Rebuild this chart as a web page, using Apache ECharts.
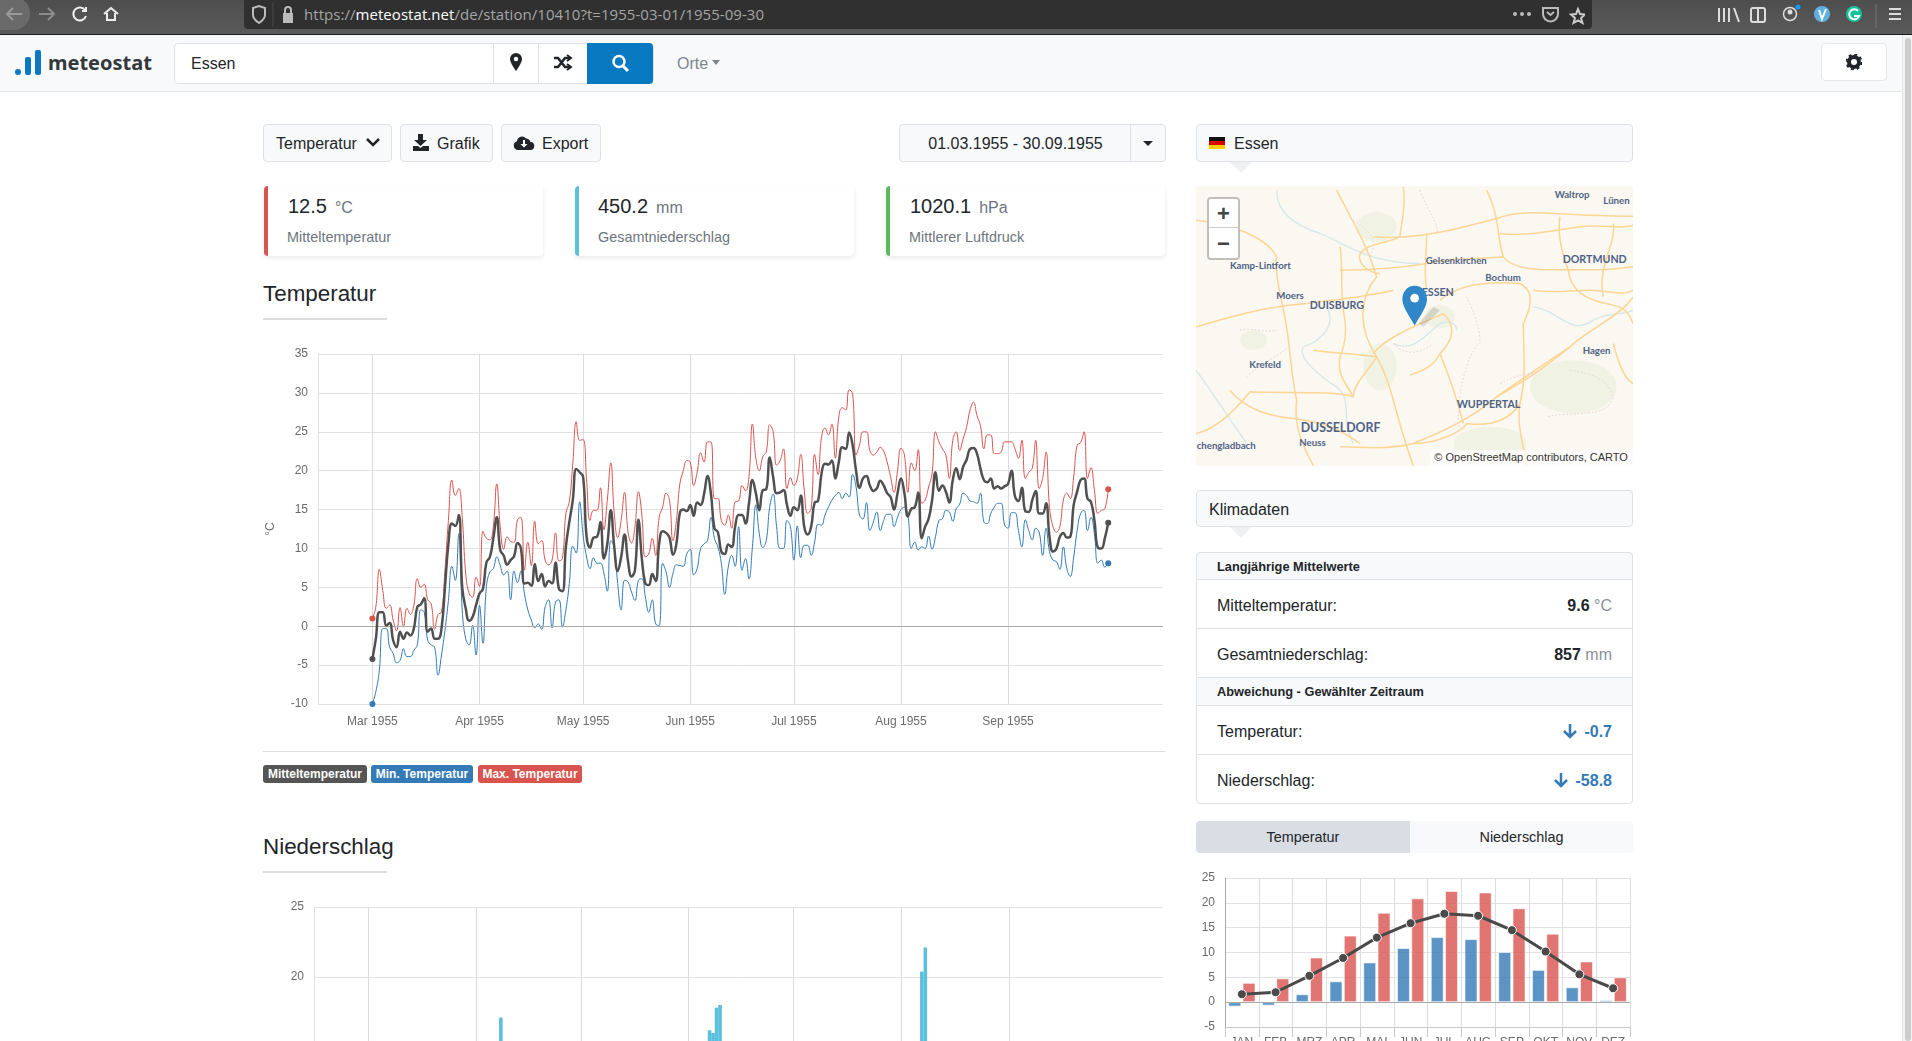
<!DOCTYPE html>
<html lang="de">
<head>
<meta charset="utf-8">
<title>Essen | meteostat</title>
<script src="https://cdn.jsdelivr.net/npm/echarts@6/dist/echarts.min.js"></script>
<style>
html,body{margin:0;padding:0;width:1912px;height:1041px;overflow:hidden;background:#fff;font-family:"Liberation Sans",Arial,sans-serif;color:#212529}
.a{position:absolute;box-sizing:border-box;white-space:nowrap}
.box{background:#f8f9fa;border:1px solid #dee2e6;border-radius:4px;font-size:16px;line-height:37px}
.card{top:186px;height:70px;width:279px;background:#fff;border-left:4px solid;border-radius:4px;box-shadow:0 2px 5px rgba(0,0,0,.09)}
.val{font-size:20px;line-height:26px}
.unit{font-size:16px;color:#6c757d;margin-left:8px}
.lab{font-size:14.4px;line-height:18px;color:#6c757d}
.head{font-size:22.4px;line-height:30px;left:263px}
.rule{left:263px;width:124px;height:2px;background:#ddd}
.tag{top:765px;height:18px;border-radius:3px;color:#fff;font-size:12px;font-weight:bold;line-height:18px;text-align:center}
.notch{width:0;height:0;border-left:11px solid transparent;border-right:11px solid transparent;border-top:11px solid #eef0f2;left:1230px}
.row{left:1196px;width:437px;border-bottom:1px solid #dee2e6;font-size:16px;padding-left:21px}
.sec{background:#f8f9fa;font-size:12.8px;font-weight:bold;height:28px;line-height:27px}
.cell{height:49px;line-height:51px}
.right{position:absolute;right:21px;top:0}
.muted{color:#8a9199}
.blue{color:#337ab7;font-weight:bold}
</style>
</head>
<body>

<!-- browser bar -->
<div class="a" style="left:0;top:0;width:1912px;height:35px;background:linear-gradient(#4e4e4e,#5a5a5a);border-bottom:1px solid #1c1c1c"></div>
<div class="a" style="left:0;top:-3px;width:30px;height:33px;border-radius:0 16px 16px 0;background:#6a6a6a"></div>
<svg class="a" style="left:0;top:0" width="130" height="34" fill="none" stroke-width="2">
  <path d="M22 14H7M13 8L7 14L13 20" stroke="#999"/>
  <path d="M39 14H54M48 8L54 14L48 20" stroke="#8c8c8c"/>
  <path d="M85 10A6.5 6.5 0 1 0 86 16M86 7V11H82" stroke="#eee"/>
  <path d="M104 14L111 8L118 14M107 13V20H115V13" stroke="#eee"/>
</svg>
<div class="a" style="left:244px;top:0;width:1348px;height:29px;background:#303030;border-radius:0 0 4px 4px"></div>
<svg class="a" style="left:250px;top:3px" width="50" height="24" fill="none">
  <path d="M3 5L9 3L15 5V12C15 16 12 18 9 20C6 18 3 16 3 12Z" stroke="#bbb" stroke-width="2"/>
  <path d="M23 0V24" stroke="#4a4a4a"/>
  <path d="M33 10H43V20H33Z" fill="#bbb"/><path d="M35 10V7A3 3 0 0 1 41 7V10" stroke="#bbb" stroke-width="2"/>
</svg>
<div class="a" id="url" style="left:304px;top:0;height:29px;line-height:29px;font-family:'Open Sans';font-size:15px;letter-spacing:.05px;color:#a5a5a5">https://<span style="color:#fff">meteostat.net</span>/de/station/10410?t=1955-03-01/1955-09-30</div>
<svg class="a" style="left:1510px;top:4px" width="75" height="22" fill="none">
  <circle cx="5" cy="10" r="2" fill="#bbb"/><circle cx="12" cy="10" r="2" fill="#bbb"/><circle cx="19" cy="10" r="2" fill="#bbb"/>
  <path d="M33 4H48V10A7.5 7.5 0 0 1 33 10Z" stroke="#bbb" stroke-width="2"/><path d="M37 8L40.5 11L44 8" stroke="#bbb" stroke-width="2"/>
  <path d="M68 5L70 10L75 10.500L71 14L72.500 19L68 16.500L63.500 19L65 14L61 10.500L66 10Z" stroke="#ccc" stroke-width="2"/>
</svg>
<svg class="a" style="left:1715px;top:4px" width="190" height="24" fill="none">
  <path d="M4 4V18M9 4V18M14 4V18M19 4L24 18" stroke="#ddd" stroke-width="2"/>
  <rect x="36" y="4" width="14" height="14" rx="2" stroke="#ddd" stroke-width="2"/><path d="M43 4V18" stroke="#ddd" stroke-width="2"/>
  <circle cx="75" cy="10" r="6.500" stroke="#ddd" stroke-width="1.500"/><circle cx="75" cy="8" r="2.500" fill="#ddd"/>
  <circle cx="83" cy="3" r="2.500" fill="#0a9dff"/>
  <circle cx="107" cy="10" r="8" fill="#5fb0e2"/><path d="M104 6L107 15L111 5" stroke="#fff" stroke-width="2"/>
  <circle cx="139" cy="10" r="8" fill="#15c39a"/><path d="M143 7A5 5 0 1 0 144 12H139" stroke="#fff" stroke-width="2"/>
  <path d="M161 0V26" stroke="#777"/>
  <path d="M174 5H186M174 10H186M174 15H186" stroke="#ddd" stroke-width="2"/>
</svg>

<!-- navbar -->
<div class="a" style="left:0;top:35px;width:1902px;height:57px;background:#f8f9fa;border-bottom:1px solid #e3e5e8"></div>
<svg class="a" style="left:14px;top:49px" width="30" height="28" fill="#0a78c2">
  <rect x="1" y="20" width="6" height="6" rx="3"/><rect x="11" y="8" width="6" height="18" rx="2"/><rect x="21" y="1" width="6" height="25" rx="2"/>
</svg>
<div class="a" style="left:48px;top:46px;line-height:34px;font-family:'Noto Sans';font-weight:700;font-size:20px;color:#33383d">meteostat</div>
<div class="a" style="left:174px;top:43px;width:480px;height:41px;background:#fff;border:1px solid #dee2e6;border-radius:4px;font-size:16px;line-height:39px;padding-left:16px">Essen</div>
<div class="a" style="left:493px;top:44px;width:1px;height:39px;background:#dee2e6"></div>
<div class="a" style="left:538px;top:44px;width:1px;height:39px;background:#dee2e6"></div>
<div class="a" style="left:587px;top:43px;width:66px;height:41px;background:#0679c0;border-radius:0 4px 4px 0"></div>
<svg class="a" style="left:505px;top:52px" width="24" height="22"><path d="M11 1A6 6 0 0 0 5 7C5 11 11 19 11 19C11 19 17 11 17 7A6 6 0 0 0 11 1Z" fill="#212529"/><circle cx="11" cy="7" r="2.200" fill="#fff"/></svg>
<svg class="a" style="left:553px;top:54px" width="20" height="18" fill="none" stroke="#212529" stroke-width="2.500"><path d="M1 4H5L12 13H17M1 13H5L12 4H17"/><path d="M14 1L18 4L14 7M14 10L18 13L14 16" stroke-width="2"/></svg>
<svg class="a" style="left:611px;top:54px" width="20" height="20" fill="none" stroke="#fff" stroke-width="2.500"><circle cx="8" cy="7.500" r="5.500"/><path d="M12 12L17 17" stroke-width="3"/></svg>
<div class="a" style="left:677px;top:43px;line-height:41px;font-size:16px;color:#7d858c">Orte</div>
<div class="a" style="left:712px;top:60px;border-left:4px solid transparent;border-right:4px solid transparent;border-top:5px solid #7d858c"></div>
<div class="a" style="left:1821px;top:43px;width:66px;height:38px;background:#fff;border:1px solid #e4e6e9;border-radius:4px"></div>
<svg class="a" style="left:1846px;top:54px" width="16" height="16"><circle cx="8" cy="8" r="5" fill="none" stroke="#212529" stroke-width="4"/><circle cx="8" cy="8" r="7.500" fill="none" stroke="#212529" stroke-width="2" stroke-dasharray="3 2.900"/></svg>
<div class="a" style="left:1902px;top:35px;width:10px;height:1006px;background:#f2f2f2;border-left:1px solid #e6e6e6"></div>
<div class="a" style="left:1905px;top:38px;width:6px;height:1003px;background:#cdcdcd;border-radius:3px"></div>

<!-- toolbar -->
<div class="a box" style="left:263px;top:124px;width:129px;height:38px;padding-left:12px">Temperatur</div>
<svg class="a" style="left:365px;top:137px" width="16" height="12" fill="none"><path d="M2 2L8 8L14 2" stroke="#212529" stroke-width="2.500"/></svg>
<div class="a box" style="left:400px;top:124px;width:93px;height:38px;padding-left:36px">Grafik</div>
<svg class="a" style="left:412px;top:134px" width="18" height="18"><path d="M6 0H11V6H15L8.500 12L2 6H6ZM1 12H6L8.500 14L11 12H17V17H1Z" fill="#212529"/></svg>
<div class="a box" style="left:501px;top:124px;width:100px;height:38px;padding-left:40px">Export</div>
<svg class="a" style="left:513px;top:134px" width="22" height="18"><path d="M5 16A4.500 4.500 0 0 1 4 7.200A5 5 0 0 1 13 4.500A5 5 0 0 1 17.500 8A4 4 0 0 1 17 16Z" fill="#212529"/><path d="M10 6H12V10H14.500L11 13.500L7.500 10H10Z" fill="#fff"/></svg>
<div class="a box" style="left:899px;top:124px;width:267px;height:38px;padding-right:34px;text-align:center">01.03.1955 - 30.09.1955</div>
<div class="a" style="left:1130px;top:125px;width:1px;height:36px;background:#dee2e6"></div>
<div class="a" style="left:1143px;top:141px;border-left:5px solid transparent;border-right:5px solid transparent;border-top:5px solid #212529"></div>

<!-- summary cards -->
<div class="a card" style="left:264px;border-left-color:#d9534f"></div>
<div class="a card" style="left:575px;border-left-color:#5bc0de"></div>
<div class="a card" style="left:886px;border-left-color:#5cb85c"></div>
<div class="a val" style="left:288px;top:193px">12.5<span class="unit">°C</span></div>
<div class="a lab" style="left:287px;top:228px">Mitteltemperatur</div>
<div class="a val" style="left:598px;top:193px">450.2<span class="unit">mm</span></div>
<div class="a lab" style="left:598px;top:228px">Gesamtniederschlag</div>
<div class="a val" style="left:910px;top:193px">1020.1<span class="unit">hPa</span></div>
<div class="a lab" style="left:909px;top:228px">Mittlerer Luftdruck</div>

<!-- temperature -->
<div class="a head" style="top:279px">Temperatur</div>
<div class="a rule" style="top:318px"></div>
<div class="a" id="tempChart" style="left:263px;top:340px;width:902px;height:400px"></div>
<div class="a" style="left:263px;top:751px;width:902px;height:1px;background:#ddd"></div>
<div class="a tag" style="left:263px;width:104px;background:#555">Mitteltemperatur</div>
<div class="a tag" style="left:371px;width:102px;background:#337ab7">Min. Temperatur</div>
<div class="a tag" style="left:478px;width:104px;background:#d9534f">Max. Temperatur</div>

<!-- precipitation -->
<div class="a head" style="top:832px">Niederschlag</div>
<div class="a rule" style="top:871px"></div>
<div class="a" id="rainChart" style="left:263px;top:890px;width:902px;height:420px"></div>

<!-- station -->
<div class="a box" style="left:1196px;top:124px;width:437px;height:38px;padding-left:37px">Essen</div>
<div class="a notch" style="top:162px"></div>
<svg class="a" style="left:1209px;top:137px" width="16" height="12"><rect width="16" height="4" fill="#111"/><rect y="4" width="16" height="4" fill="#d00"/><rect y="8" width="16" height="4" fill="#fc0"/></svg>

<!-- map backdrop -->
<svg class="a" style="left:1196px;top:186px" width="437" height="280" viewBox="48 228 1311 839">
  <rect x="48" y="228" width="1311" height="839" fill="#fbf7f1"/>
  <g fill="#f0f3e4">
    <ellipse cx="590" cy="350" rx="60" ry="45"/><ellipse cx="600" cy="770" rx="50" ry="70"/><ellipse cx="1180" cy="830" rx="130" ry="80"/>
    <ellipse cx="780" cy="620" rx="45" ry="35"/><ellipse cx="930" cy="1000" rx="110" ry="50"/><ellipse cx="220" cy="690" rx="40" ry="30"/>
  </g>
  <g fill="none" stroke="#d4e8ea" stroke-width="4">
    <path d="M290 240C290 300 330 340 420 370C500 400 560 460 720 460"/>
    <path d="M440 590C470 640 430 690 370 710C350 740 420 800 470 830C520 870 480 930 520 1000"/>
    <path d="M640 700C700 730 740 670 780 640C810 630 830 640 830 660"/>
    <path d="M1060 590C1140 600 1170 680 1240 630C1290 600 1330 620 1359 600"/>
    <path d="M48 780C100 850 150 930 200 1000"/>
  </g>
  <g fill="none" stroke="#fdd594" stroke-width="4.500">
    <path d="M470 240C520 340 560 400 590 500C540 560 530 650 590 740C640 830 640 900 700 1067"/>
    <path d="M670 230C680 300 660 350 660 380C620 400 560 400 540 430C530 470 580 490 600 490"/>
    <path d="M48 330C150 340 260 380 290 440C280 490 310 580 310 600C330 680 330 780 350 870C340 950 370 1010 400 1067"/>
    <path d="M580 380C700 390 820 360 950 325C1040 290 1140 320 1359 318"/>
    <path d="M920 240C960 320 950 380 970 440C1000 480 1080 480 1160 478C1250 480 1300 480 1359 470"/>
    <path d="M480 480C600 480 680 470 740 460C820 440 880 450 970 440"/>
    <path d="M780 570C830 530 900 510 1020 520C1060 540 1060 580 1030 640C1030 720 1040 800 1020 880C1010 950 1030 1000 1040 1067"/>
    <path d="M48 650C150 620 250 590 380 580C450 570 560 560 640 540"/>
    <path d="M1359 560C1320 620 1220 660 1170 710C1080 770 1020 810 950 860C880 920 800 960 700 1000C620 1020 550 1010 480 1010"/>
    <path d="M580 730C620 680 700 650 790 610C820 640 830 680 780 730C800 780 830 860 850 940"/>
    <path d="M400 720C470 730 520 730 590 740C560 790 520 820 520 860C470 840 300 850 210 845C150 920 100 960 48 970"/>
    <path d="M1140 320C1130 380 1150 440 1165 480C1170 540 1220 570 1280 580C1320 590 1340 590 1359 640"/>
    <path d="M740 370C740 440 730 480 740 540M780 730C760 770 730 780 690 795"/>
    <path d="M1300 340C1310 400 1250 470 1270 560M1300 700C1320 780 1340 810 1359 820"/>
    <path d="M480 410C490 470 480 520 490 600C500 650 500 690 480 740C470 800 500 820 520 860"/>
    <path d="M1060 540C1120 550 1170 540 1230 540C1280 540 1330 560 1359 540"/>
    <path d="M950 860C1000 830 1060 800 1170 710M860 940C930 950 990 930 1020 880"/>
    <path d="M150 840C200 900 280 920 340 925C420 935 470 950 540 1000"/>
    <path d="M960 370C1040 380 1120 360 1200 350C1260 340 1320 360 1359 345"/>
    <path d="M700 1000C780 1000 850 960 860 940"/>
  </g>
  <g fill="none" stroke="#e8d5d8" stroke-width="3" stroke-dasharray="5 6">
    <path d="M520 330C560 360 600 380 570 440M720 240C740 300 780 340 770 370M860 560C880 600 900 650 900 700C860 720 820 900 840 960"/>
    <path d="M180 660C220 650 250 670 290 660M200 800C240 760 330 720 330 700M1170 780C1230 790 1280 800 1300 860C1280 930 1180 900 1100 920"/>
    <path d="M640 700C680 740 720 730 760 700M960 820C1000 800 1030 790 1060 790"/>
  </g>
  <g font-family="Lato,'Noto Sans'" font-weight="700" fill="#4d6285" font-size="29">
    <text x="1124" y="264">Waltrop</text><text x="1270" y="281">Lünen</text>
    <text x="150" y="478">Kamp-Lintfort</text><text x="737" y="463">Gelsenkirchen</text>
    <text x="916" y="513">Bochum</text><text x="289" y="566">Moers</text>
    <text x="208" y="774">Krefeld</text><text x="1208" y="731">Hagen</text>
    <text x="358" y="1008">Neuss</text><text x="50" y="1016">chengladbach</text>
  </g>
  <g font-family="Lato,'Noto Sans'" font-weight="700" fill="#4d6285">
    <text x="1148" y="458" font-size="32">DORTMUND</text><text x="725" y="557" font-size="32">ESSEN</text>
    <text x="389" y="598" font-size="32">DUISBURG</text><text x="830" y="895" font-size="32">WUPPERTAL</text>
    <text x="362" y="965" font-size="37">DUSSELDORF</text>
  </g>
  <path d="M715 640L760 590L780 600L730 650Z" fill="#000" opacity=".12"/>
  <path d="M704 527C682 527 667 545 667 568C667 590 690 620 704 646C718 620 741 590 741 568C741 545 726 527 704 527Z" fill="#2f86c8"/>
  <circle cx="704" cy="564" r="13" fill="#fff"/>
  <rect x="750" y="1020" width="609" height="47" fill="#fff" opacity=".72"/>
  <text x="763" y="1052" font-family="'Liberation Sans'" font-size="33" fill="#333">© OpenStreetMap contributors, CARTO</text>
</svg>
<div class="a" style="left:1207px;top:197px;width:33px;height:63px;background:#fff;border:2px solid #c2bfba;border-radius:4px"></div>
<div class="a" style="left:1209px;top:227px;width:29px;height:1px;background:#ccc"></div>
<div class="a" style="left:1209px;top:200px;width:29px;height:28px;text-align:center;font:bold 22px/28px 'Liberation Sans';color:#444">+</div>
<div class="a" style="left:1209px;top:229px;width:29px;height:30px;text-align:center;font:bold 22px/29px 'Liberation Sans';color:#444">−</div>

<!-- climate table -->
<div class="a box" style="left:1196px;top:490px;width:437px;height:37px;padding-left:12px;line-height:37px">Klimadaten</div>
<div class="a notch" style="top:527px"></div>
<div class="a" style="left:1196px;top:552px;width:437px;height:252px;border:1px solid #dee2e6;border-radius:4px"></div>
<div class="a row sec" style="top:552px;border-radius:4px 4px 0 0;border-top:1px solid #dee2e6;border-left:1px solid #dee2e6;border-right:1px solid #dee2e6;padding-left:20px">Langjährige Mittelwerte</div>
<div class="a row cell" style="top:580px">Mitteltemperatur:<span class="right"><b>9.6</b> <span class="muted">°C</span></span></div>
<div class="a row cell" style="top:629px">Gesamtniederschlag:<span class="right"><b>857</b> <span class="muted">mm</span></span></div>
<div class="a row sec" style="top:678px;border-left:1px solid #dee2e6;border-right:1px solid #dee2e6;padding-left:20px;line-height:28px">Abweichung - Gewählter Zeitraum</div>
<div class="a row cell" style="top:706px">Temperatur:<span class="right blue">-0.7</span></div>
<div class="a row cell" style="top:755px;border-bottom:none">Niederschlag:<span class="right blue">-58.8</span></div>
<svg class="a" style="left:1562px;top:723px" width="16" height="16" fill="none" stroke="#337ab7" stroke-width="2.500"><path d="M8 1V14M2 8L8 14L14 8"/></svg>
<svg class="a" style="left:1553px;top:772px" width="16" height="16" fill="none" stroke="#337ab7" stroke-width="2.500"><path d="M8 1V14M2 8L8 14L14 8"/></svg>
<div class="a" style="left:1196px;top:821px;width:214px;height:32px;background:#d9dde4;border-radius:4px 0 0 4px;text-align:center;font-size:14.4px;line-height:32px">Temperatur</div>
<div class="a" style="left:1410px;top:821px;width:223px;height:32px;background:#f8f9fa;border-radius:0 4px 4px 0;text-align:center;font-size:14.4px;line-height:32px">Niederschlag</div>
<div class="a" id="climateChart" style="left:1190px;top:860px;width:450px;height:200px"></div>

<script>
// Temperatur, one value per day from 1 Mar 1955
var startDate = Date.UTC(1955, 2, 1);
var dayMs = 86400000;

var tempMean = [-4.2,-1.6,1.8,1.8,0.1,0.4,-1.8,-2.7,-0.7,-1.6,-0.8,-1.2,-0.3,2.5,2.8,3.6,-0.7,-0.3,-1.6,-1.6,-0.3,5,10.6,13.2,12.9,14.3,5,2.3,0.7,1.2,2.7,4.2,4.8,8.2,8.9,11.3,14,9.8,9.1,7.9,8.5,9,10.7,10,5.5,5.6,5.2,8,5.8,6.7,5.1,5.8,5.5,8.2,4.8,4.5,10.2,13.4,16.2,20.2,19.8,19.2,11.5,10.1,11.4,11.5,13.4,8.7,10.6,14.9,10.2,7.1,8.9,11.8,8.3,6.4,7.2,13.7,8.7,5.5,5.3,6.7,5.8,10.6,12.2,12,11.4,9.2,10.6,14.6,15,14.8,15.6,14.2,15.9,15.6,
  17,19.3,17,12.6,12.1,9.6,9.3,10.5,10.2,12.8,14.3,14.3,13.2,15.8,18.8,17.1,14.9,17.5,17.6,21.7,19.2,17.1,17.2,17.5,15.6,14.2,15.3,14.9,16.8,12.8,11.8,12.8,15.9,16.1,19.6,20.9,20.8,21.3,19,21.1,23,22.8,24.9,23.3,20,17.8,19,19.3,18.1,17.4,17.7,18.7,18.1,17.1,16.6,15,17.1,19,17.1,14.1,15.1,15.3,17.2,11.3,12.8,13.8,16.2,19.8,17.4,18.1,17.3,15.9,18.8,20.3,18.9,20.5,21.4,22.8,22.9,22.2,20.3,18.8,18.5,19,17.7,18,17.7,18,18.3,20,16.7,16.1,17.8,14.8,14.7,16.2,17.4,14.5,14.5,15.8,11.5,9.6,10,11.5,12,11.4,11.5,15.6,17.3,18.8,19,16.4,16,13.6,10.1,10,11.3,13.3];

var tempMin = [-10,-8.4,-5.7,-0.3,-0.3,-2.7,-3.5,-4.7,-4.4,-2.9,-3.9,-3.9,-3.1,-2.4,2.1,1.8,-1.8,-2.4,-2.7,-6.3,-3.7,-0.5,3.3,7.7,5.9,11.9,2.1,-1.6,-2.4,0.1,-3.7,2.7,-2.2,5.1,7,7.4,8.9,7.8,6.6,7.1,3.4,7.1,5.6,7.1,4.2,2.1,0.8,-0.2,0.3,-0.4,2.5,3.4,-0.2,3.1,3.4,-0.1,2.1,5.5,10.3,9.4,16,11.7,8.9,7.4,8.8,8.1,8.1,6.8,4.5,11,10.2,5.5,2.1,5.9,5.7,4.4,3.3,5.9,6.1,3.8,1.8,3.4,0.3,0.1,8.1,7,5,6.8,7.9,7.8,7.7,9.3,9.9,6.6,7.4,10,
  10.6,11,14,11.3,10.2,8.1,4.1,7.6,9.1,7.7,12.8,7.2,8.7,6.1,10.2,15.6,11.9,10.1,11,15.3,17,12.8,10,10,13.6,12.8,8.5,12.9,8.8,10.4,10.4,9.1,10.8,13.1,13,14.3,15.3,16.2,16.8,17.2,16.4,17.1,16.6,19.5,17.9,14.3,13.8,15.9,12.3,13.4,14.7,12.3,13.6,14.4,14.4,12.8,14,15,15.3,14.3,10,10.8,9.8,10.2,10,11.6,9.9,11.5,13.6,13.8,14.9,14.7,13.5,15.1,15.7,17.1,16.8,16.1,16,15.8,17.1,13.4,13.2,14.5,15.3,15.8,15.8,13,12.6,14.6,14.6,12.3,10.2,13.7,12.3,11.1,12.6,12.1,9.1,12.6,9.6,8.5,8.3,7.3,10.2,7.4,6.4,8.9,12.3,14.5,14.9,12.3,14,11.9,8.1,8.5,7.6,8.1];

var tempMax = [1,2.5,7.3,4.6,2.3,2.7,0.8,-0.6,2.4,0,2.3,1.5,2.7,6.1,5,5.4,3.4,2.9,-0.4,1.5,1.8,7.2,13.6,18.8,16.8,17.7,14,6.8,4.2,3.7,6.3,5.1,12.2,11.3,11.1,12.8,18.3,12.8,9.9,11.5,10.9,10.8,13.7,14,7.2,10.8,7.8,13.5,10.6,11,8.5,7.9,8.5,12,8.4,8.7,14.5,16,20.9,26.3,23.9,24,18.8,13.6,14.9,14.9,17.8,12.4,16.2,21,14.5,11.4,13.6,17.2,12.1,10.7,12.8,17.3,14.3,8.9,9.3,11.3,9.1,14,15.3,17.1,16.2,11,13.6,18.3,20,21.3,21.1,18.1,19.8,22.3,
  21.1,23.7,23.7,16.4,16.4,13.6,13,14.3,12.6,16,16.1,18.1,17.4,19.2,26,21.6,20,21.8,22.4,25.9,25,20.7,21.3,22.8,17.7,19.1,18.1,19,22.1,17.5,14.5,15.1,22.1,19.5,24.3,25.5,24.6,26,21.6,26.9,28.1,27.8,30.4,29.9,22,23.3,25,25,22.6,22,22.4,23,22.5,21.1,19.2,17.2,20,22.9,22,17.2,21,20,22.7,15.8,16.2,17.9,19.6,25,23.7,22.8,22,19,23.9,25,22.6,24.1,25.6,27.8,28.8,27.1,25.8,22.8,24.6,24.6,22.2,22.2,22.4,23.7,23.7,23.7,22.8,21.6,23.9,19,19.8,20.3,23.9,17.7,19,22.4,15.3,12.8,12.1,12.8,16.2,17.1,16.4,19.2,23.3,23.6,25,19,20.4,17.5,14.5,14.9,15.1,17.6];

var tickDates = [Date.UTC(1955,2,1), Date.UTC(1955,3,1), Date.UTC(1955,4,1), Date.UTC(1955,5,1), Date.UTC(1955,6,1), Date.UTC(1955,7,1), Date.UTC(1955,8,1)];
var tickLabels = ['Mar 1955','Apr 1955','May 1955','Jun 1955','Jul 1955','Aug 1955','Sep 1955'];

// Niederschlag, only the bars that reach into the visible part of the page
var rainDates = [Date.UTC(1955,3,8), Date.UTC(1955,5,7), Date.UTC(1955,5,8), Date.UTC(1955,5,9), Date.UTC(1955,5,10), Date.UTC(1955,7,7), Date.UTC(1955,7,8)];
var rainValues = [17.1, 16.2, 16, 17.8, 18, 20.4, 22.1];

// Klimadaten
var months = ['JAN','FEB','MRZ','APR','MAI','JUN','JUL','AUG','SEP','OKT','NOV','DEZ'];
var climateMin = [-0.9,-0.7,1.6,4.2,8,10.9,13.1,12.7,10.1,6.5,3,0.4];
var climateMax = [3.9,4.8,9,13.4,18,20.9,22.4,22.1,18.9,13.8,8.2,5];
var climateMean = [1.6,2,5.3,8.9,13,15.9,17.8,17.4,14.5,10.2,5.6,2.8];

var textFont = 'Liberation Sans';
var gridColor = '#e2e2e2';
var labelColor = '#6b6b6b';

function withDates(values) {
  return values.map(function (v, i) { return [startDate + i * dayMs, v]; });
}

// time axis crashes with customValues, so the dates go on a plain value axis
function dateAxis(min, max) {
  return {
    type: 'value',
    min: min,
    max: max,
    axisLine: { show: false },
    axisTick: { show: false, customValues: tickDates },
    splitLine: { show: true, lineStyle: { color: '#dcdcdc' } },
    axisLabel: {
      color: labelColor, fontFamily: textFont, fontSize: 12, margin: 12, hideOverlap: false,
      customValues: tickDates,
      formatter: function (v) { return tickLabels[tickDates.indexOf(v)]; }
    }
  };
}

function tempLine(name, values, color, width) {
  return {
    name: name,
    type: 'line',
    data: withDates(values),
    smooth: 0.45,
    showAllSymbol: true,
    symbol: 'circle',
    symbolSize: function (v, p) { return p.dataIndex === 0 || p.dataIndex === values.length - 1 ? 6 : 0; },
    lineStyle: { color: color, width: width },
    itemStyle: { color: color },
    silent: true,
    z: width > 1 ? 5 : 3
  };
}

var zeroLine = {
  silent: true, symbol: 'none', label: { show: false },
  lineStyle: { color: '#a9a9a9', width: 1, type: 'solid' },
  data: [{ yAxis: 0 }]
};

var tempChart = echarts.init(document.getElementById('tempChart'));
var tempSeries = [
  tempLine('Max. Temperatur', tempMax, '#d9534f', 1),
  tempLine('Min. Temperatur', tempMin, '#337ab7', 1),
  tempLine('Mitteltemperatur', tempMean, '#505050', 2.5)
];
tempSeries[0].markLine = zeroLine;
tempChart.setOption({
  animation: false,
  grid: { left: 55, top: 14, width: 845, height: 350, outerBoundsMode: 'none' },
  xAxis: dateAxis(startDate - 15.75 * dayMs, startDate + 228.85 * dayMs),
  yAxis: {
    type: 'value', min: -10, max: 35, interval: 5,
    name: '°C', nameLocation: 'middle', nameGap: 41,
    nameTextStyle: { color: labelColor, fontFamily: textFont, fontSize: 12 },
    axisLine: { show: true, lineStyle: { color: gridColor } },
    axisTick: { show: false },
    splitLine: { lineStyle: { color: gridColor } },
    axisLabel: { color: labelColor, fontFamily: textFont, fontSize: 12, margin: 10 }
  },
  series: tempSeries
});

var rainChart = echarts.init(document.getElementById('rainChart'));
rainChart.setOption({
  animation: false,
  grid: { left: 51, top: 17, width: 849, height: 350, outerBoundsMode: 'none' },
  xAxis: dateAxis(startDate - 15.7 * dayMs, startDate + 228.3 * dayMs),
  yAxis: {
    type: 'value', min: 0, max: 25, interval: 5,
    axisLine: { show: true, lineStyle: { color: gridColor } },
    axisTick: { show: false },
    splitLine: { lineStyle: { color: gridColor } },
    axisLabel: { color: labelColor, fontFamily: textFont, fontSize: 12, margin: 10 }
  },
  series: [{
    name: 'Niederschlag',
    type: 'bar',
    barWidth: 3.6,
    silent: true,
    itemStyle: { color: '#5bc0de' },
    data: rainDates.map(function (d, i) { return [d, rainValues[i]]; })
  }]
});

var climateChart = echarts.init(document.getElementById('climateChart'));
climateChart.setOption({
  animation: false,
  grid: { left: 35, top: 18, width: 405, height: 149, outerBoundsMode: 'none' },
  xAxis: {
    type: 'category',
    data: months,
    axisLine: { onZero: false, lineStyle: { color: '#c9c9c9' } },
    axisTick: { show: true, alignWithLabel: false, length: 10, lineStyle: { color: '#c9c9c9' } },
    splitLine: { show: true, lineStyle: { color: '#dedede' } },
    axisLabel: { color: labelColor, fontFamily: textFont, fontSize: 12, margin: 10, interval: 0 }
  },
  yAxis: {
    type: 'value', min: -5, max: 25, interval: 5,
    axisLine: { show: true, lineStyle: { color: '#a9a9a9' } },
    axisTick: { show: false },
    splitLine: { lineStyle: { color: gridColor } },
    axisLabel: { color: labelColor, fontFamily: textFont, fontSize: 12, margin: 10 }
  },
  series: [
    { name: 'Min', type: 'bar', barWidth: 13, barGap: '10%', silent: true, data: climateMin, markLine: zeroLine,
      itemStyle: { color: 'rgba(51,122,183,.8)', borderColor: 'rgba(255,255,255,.6)', borderWidth: 1 } },
    { name: 'Max', type: 'bar', barWidth: 13, barGap: '10%', silent: true, data: climateMax,
      itemStyle: { color: 'rgba(217,83,79,.8)', borderColor: 'rgba(255,255,255,.6)', borderWidth: 1 } },
    { name: 'Mittel', type: 'line', data: climateMean, silent: true, symbol: 'circle', symbolSize: 9, showAllSymbol: true, z: 5,
      lineStyle: { color: '#4a4a4a', width: 3 },
      itemStyle: { color: '#4a4a4a', borderColor: '#fff', borderWidth: 1 } }
  ]
});
</script>
</body>
</html>
